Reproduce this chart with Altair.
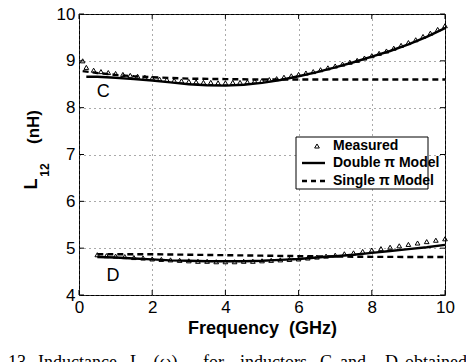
import altair as alt
import pandas as pd

# ---------------- data ----------------
c_meas_f = [0.1, 0.2, 0.4, 0.6, 0.8, 1.0, 1.2, 1.4, 1.6, 1.8, 2.0, 2.2, 2.4, 2.6, 2.8, 3.0,
            3.2, 3.4, 3.6, 3.8, 4.0, 4.2, 4.4, 4.6, 4.8, 5.0, 5.2, 5.4, 5.6, 5.8, 6.0, 6.2,
            6.4, 6.6, 6.8, 7.0, 7.2, 7.4, 7.6, 7.8, 8.0, 8.2, 8.4, 8.6, 8.8, 9.0, 9.2, 9.4,
            9.6, 9.8, 10.0]
c_meas_l = [9.00, 8.86, 8.80, 8.77, 8.75, 8.73, 8.71, 8.69, 8.67, 8.65, 8.63, 8.61, 8.60,
            8.58, 8.57, 8.56, 8.55, 8.54, 8.54, 8.53, 8.53, 8.54, 8.54, 8.55, 8.57, 8.58,
            8.60, 8.62, 8.65, 8.68, 8.71, 8.74, 8.77, 8.81, 8.85, 8.89, 8.93, 8.97, 9.01,
            9.06, 9.11, 9.16, 9.21, 9.27, 9.33, 9.39, 9.45, 9.52, 9.59, 9.67, 9.75]

c_dbl_f = [0.2, 0.5, 1.0, 1.5, 2.0, 2.5, 3.0, 3.5, 4.0, 4.5, 5.0, 5.5, 6.0, 6.5, 7.0, 7.5,
           8.0, 8.5, 9.0, 9.5, 10.0]
c_dbl_l = [8.66, 8.66, 8.64, 8.61, 8.58, 8.54, 8.50, 8.48, 8.47, 8.49, 8.53, 8.59, 8.67,
           8.76, 8.86, 8.97, 9.09, 9.21, 9.35, 9.51, 9.70]

c_sgl_f = [0.1, 0.5, 1.0, 1.5, 2.0, 3.0, 4.0, 5.0, 6.0, 8.0, 10.0]
c_sgl_l = [8.78, 8.74, 8.70, 8.67, 8.65, 8.62, 8.61, 8.60, 8.60, 8.60, 8.60]

d_meas_f = [0.5, 0.75, 1.0, 1.25, 1.5, 1.75, 2.0, 2.25, 2.5, 2.75, 3.0, 3.25, 3.5, 3.75,
            4.0, 4.25, 4.5, 4.75, 5.0, 5.25, 5.5, 5.75, 6.0, 6.25, 6.5, 6.75, 7.0, 7.25,
            7.5, 7.75, 8.0, 8.25, 8.5, 8.75, 9.0, 9.25, 9.5, 9.75, 10.0]
d_meas_l = [4.86, 4.84, 4.83, 4.82, 4.80, 4.79, 4.77, 4.76, 4.75, 4.74, 4.73, 4.72, 4.72,
            4.71, 4.71, 4.71, 4.72, 4.72, 4.73, 4.74, 4.75, 4.76, 4.77, 4.79, 4.81, 4.83,
            4.85, 4.88, 4.90, 4.93, 4.96, 4.99, 5.02, 5.05, 5.08, 5.11, 5.14, 5.17, 5.20]

d_dbl_f = [0.5, 1.0, 1.5, 2.0, 2.5, 3.0, 3.5, 4.0, 4.5, 5.0, 5.5, 6.0, 6.5, 7.0, 7.5, 8.0,
           8.5, 9.0, 9.5, 10.0]
d_dbl_l = [4.81, 4.80, 4.78, 4.76, 4.74, 4.73, 4.72, 4.72, 4.72, 4.73, 4.75, 4.77, 4.80,
           4.83, 4.86, 4.90, 4.94, 4.98, 5.02, 5.07]

d_sgl_f = [0.5, 2.0, 3.0, 4.0, 5.0, 6.0, 7.0, 8.0, 10.0]
d_sgl_l = [4.87, 4.87, 4.86, 4.85, 4.84, 4.83, 4.82, 4.815, 4.81]

curve_labels = ["C", "D"]
curve_label_f = [0.66, 0.93]
curve_label_l = [8.33, 4.40]

x_ticks = [0, 2, 4, 6, 8, 10]
y_ticks = [4, 5, 6, 7, 8, 9, 10]

legend_names = ["Measured", "Double \u03c0 Model", "Single \u03c0 Model"]

# y-axis title pieces: text, page x, page y, font size
ytitle_parts = ["L", "12", "(nH)"]
ytitle_x = [32, 45, 34]
ytitle_y = [184, 170, 127]
ytitle_size = [18, 12, 17]

caption_words = ["13.", "Inductance", "L\u2081\u2082(\u03c9)", "for", "inductors", "C", "and", "D", "obtained"]
caption_x = [8, 38, 130, 203, 240, 320, 340, 385, 405]

# ---------------- layout ----------------
W, H = 366, 281
LEFT, TOP = 79, 14          # plot-area origin in page pixels
FONT = "Liberation Sans"
NB = "\u00a0"

xs = alt.Scale(domain=[0, 10], nice=False, zero=False)
ys = alt.Scale(domain=[4, 10], nice=False, zero=False)

X = alt.X("f:Q", scale=xs, axis=alt.Axis(values=x_ticks, title="Frequency" + NB + NB + "(GHz)"))
Y = alt.Y("l:Q", scale=ys, axis=alt.Axis(values=y_ticks, title=None))


def df(f, l):
    return pd.DataFrame({"f": f, "l": l})


def meas(f, l):
    return alt.Chart(df(f, l)).mark_point(
        shape="triangle-up", filled=False, color="black", size=22, strokeWidth=1, opacity=1
    ).encode(x=X, y=Y)


def solid(f, l):
    return alt.Chart(df(f, l)).mark_line(color="black", strokeWidth=2.4).encode(x=X, y=Y)


def dashed(f, l):
    return alt.Chart(df(f, l)).mark_line(
        color="black", strokeWidth=2.4, strokeDash=[6, 4]
    ).encode(x=X, y=Y)


labels = alt.Chart(df(curve_label_f, curve_label_l).assign(t=curve_labels)).mark_text(
    fontSize=18, font=FONT, color="black", align="center", baseline="middle"
).encode(x=X, y=Y, text="t:N")

# inward ticks (MATLAB style)
xt = pd.DataFrame({"f": x_ticks})
yt = pd.DataFrame({"l": y_ticks})
tick_bot = alt.Chart(xt).mark_rule(color="black", strokeWidth=1).encode(
    x=X, y=alt.value(H), y2=alt.value(H - 5))
tick_top = alt.Chart(xt).mark_rule(color="black", strokeWidth=1).encode(
    x=X, y=alt.value(0), y2=alt.value(5))
tick_l = alt.Chart(yt).mark_rule(color="black", strokeWidth=1).encode(
    y=Y, x=alt.value(0), x2=alt.value(5))
tick_r = alt.Chart(yt).mark_rule(color="black", strokeWidth=1).encode(
    y=Y, x=alt.value(W), x2=alt.value(W - 5))

one = alt.Data(values=[{}])

# y-axis title with a real subscript
ytitle = [
    alt.Chart(one).mark_text(
        text=t, fontSize=s, font=FONT, fontWeight="bold", color="black",
        angle=270, align="center", baseline="middle"
    ).encode(x=alt.value(px - LEFT), y=alt.value(py - TOP))
    for t, px, py, s in zip(ytitle_parts, ytitle_x, ytitle_y, ytitle_size)
]

# legend (page pixel positions converted to plot-area pixels)
leg_box = alt.Chart(one).mark_rect(fill="white", stroke="black", strokeWidth=1).encode(
    x=alt.value(296 - LEFT), x2=alt.value(428 - LEFT),
    y=alt.value(137 - TOP), y2=alt.value(189 - TOP))
leg_tri = alt.Chart(one).mark_point(
    shape="triangle-up", filled=False, color="black", size=22, strokeWidth=1, opacity=1
).encode(x=alt.value(317 - LEFT), y=alt.value(146 - TOP))
leg_solid = alt.Chart(one).mark_rule(color="black", strokeWidth=2.4).encode(
    x=alt.value(302 - LEFT), x2=alt.value(325 - LEFT), y=alt.value(163 - TOP))
leg_dash = alt.Chart(one).mark_rule(color="black", strokeWidth=2.4, strokeDash=[5, 4]).encode(
    x=alt.value(302 - LEFT), x2=alt.value(325 - LEFT), y=alt.value(181 - TOP))
leg_rows = [146, 163, 181]
leg_texts = [
    alt.Chart(one).mark_text(
        text=name, fontSize=14, font=FONT, fontWeight="bold", color="black",
        align="left", baseline="middle"
    ).encode(x=alt.value(333 - LEFT), y=alt.value(row - TOP))
    for name, row in zip(legend_names, leg_rows)
]

# caption (cut off at the bottom of the figure)
caption = [
    alt.Chart(one).mark_text(
        text=w, fontSize=18, font="Liberation Serif", color="black",
        align="left", baseline="alphabetic"
    ).encode(x=alt.value(px - LEFT), y=alt.value(368 - TOP))
    for w, px in zip(caption_words, caption_x)
]

chart = alt.layer(
    dashed(c_sgl_f, c_sgl_l), solid(c_dbl_f, c_dbl_l), meas(c_meas_f, c_meas_l),
    dashed(d_sgl_f, d_sgl_l), solid(d_dbl_f, d_dbl_l), meas(d_meas_f, d_meas_l),
    labels, tick_bot, tick_top, tick_l, tick_r,
    *ytitle,
    leg_box, leg_tri, leg_solid, leg_dash, *leg_texts,
    *caption,
).properties(
    width=W, height=H,
    autosize=alt.AutoSizeParams(type="none"),
    padding={"left": LEFT - 8, "top": TOP - 8, "right": 474 - LEFT - W - 8,
             "bottom": 362 - TOP - H},
).configure_view(
    stroke="black", strokeWidth=1
).configure_axis(
    labelFont=FONT, labelFontSize=17, labelColor="black",
    titleFont=FONT, titleFontSize=18, titleFontWeight="bold", titleColor="black",
    domain=False, ticks=False,
    grid=True, gridColor="#555555", gridDash=[1, 4], gridWidth=1,
    labelPadding=4,
).configure_axisX(
    titlePadding=4, labelFlush=False
).configure_axisY(
    labelFlush=False
)

chart.save("out.html", embed_options={"renderer": "svg", "actions": False})
